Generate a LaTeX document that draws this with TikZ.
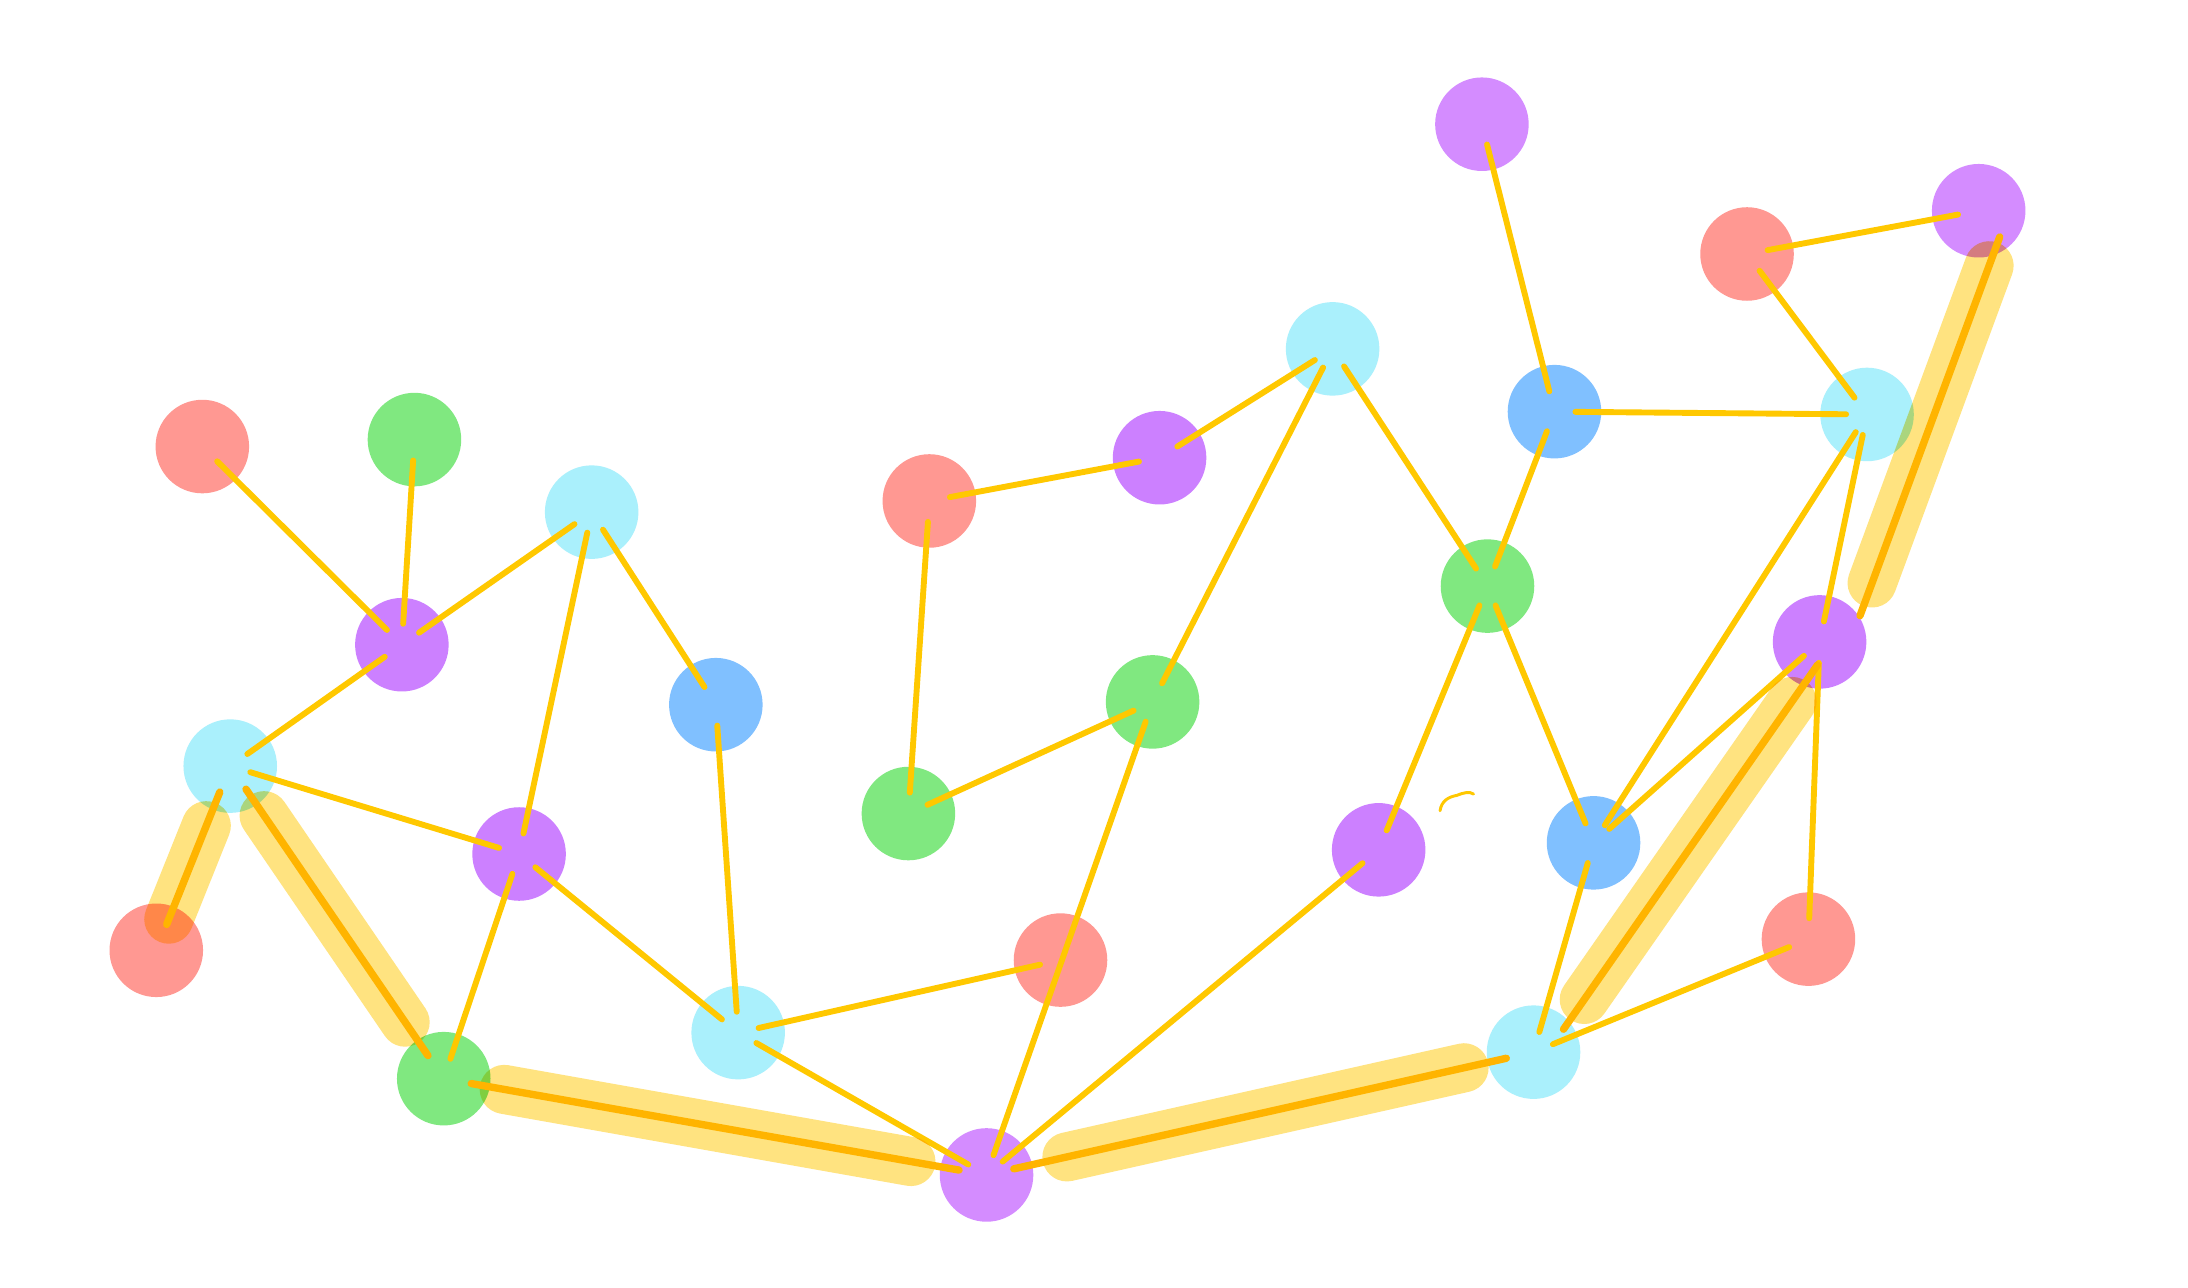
\documentclass[tikz,border=0pt]{standalone}
\usetikzlibrary{backgrounds}
\definecolor{cred}{HTML}{FF9892}
\definecolor{cgreen}{HTML}{80E880}
\definecolor{ccyan}{HTML}{AAF0FC}
\definecolor{cpurple}{HTML}{CC80FF}
\definecolor{clpurple}{HTML}{D48CFF}
\definecolor{cblue}{HTML}{80C0FF}
\definecolor{cedge}{HTML}{FFC800}
\definecolor{cband}{HTML}{FFE380}
\definecolor{ccore}{HTML}{FFB400}
\tikzset{
  vtx/.style={circle, inner sep=0pt, minimum size=0.67cm, fill=#1},
  edge/.style={draw=cedge, line width=1.2pt, line cap=round, shorten <=0.15cm, shorten >=0.15cm},
  band/.style={draw=cband, line width=10pt, line cap=round},
  core/.style={draw=ccore, line width=1.5pt, line cap=round, shorten <=0.2cm, shorten >=0.2cm},
}
\begin{document}
\begin{tikzpicture}[x=0.01cm, y=-0.01cm]
\useasboundingbox (0,0) rectangle (1568,923);
\fill[white] (0,0) rectangle (1568,923);
% nodes
\node[vtx=cred]     (n1)  at (145,320) {};
\node[vtx=cgreen]   (n2)  at (297,315) {};
\node[vtx=ccyan]    (n3)  at (424,367) {};
\node[vtx=cpurple]  (n4)  at (288,462) {};
\node[vtx=ccyan]    (n5)  at (165,549) {};
\node[vtx=cblue]    (n6)  at (513,505) {};
\node[vtx=cred]     (n7)  at (112,681) {};
\node[vtx=cpurple]  (n8)  at (372,612) {};
\node[vtx=cgreen]   (n9)  at (318,773) {};
\node[vtx=ccyan]    (n10) at (529,740) {};
\node[vtx=cred]     (n11) at (666,359) {};
\node[vtx=cpurple]  (n12) at (831,328) {};
\node[vtx=cgreen]   (n13) at (651,583) {};
\node[vtx=cgreen]   (n14) at (826,503) {};
\node[vtx=ccyan]    (n15) at (955,250) {};
\node[vtx=cred]     (n16) at (760,688) {};
\node[vtx=clpurple] (n17) at (707,842) {};
\node[vtx=clpurple] (n18) at (1062,89) {};
\node[vtx=cblue]    (n19) at (1114,295) {};
\node[vtx=cgreen]   (n20) at (1066,420) {};
\node[vtx=cpurple]  (n21) at (988,609) {};
\node[vtx=cblue]    (n22) at (1142,604) {};
\node[vtx=ccyan]    (n23) at (1099,754) {};
\node[vtx=cred]     (n24) at (1252,182) {};
\node[vtx=clpurple] (n25) at (1418,151) {};
\node[vtx=ccyan]    (n26) at (1338,297) {};
\node[vtx=cpurple]  (n27) at (1304,460) {};
\node[vtx=cred]     (n28) at (1296,673) {};
% thin edges
\foreach \a/\b in {n1/n4, n2/n4, n3/n4, n4/n5, n3/n8, n3/n6, n5/n8, n8/n9, n8/n10,
  n6/n10, n10/n17, n10/n16, n11/n12, n11/n13, n13/n14, n12/n15, n14/n15, n14/n17,
  n15/n20, n17/n21, n21/n20, n18/n19, n19/n20, n19/n26, n20/n22, n26/n22, n27/n22,
  n22/n23, n23/n28, n27/n28, n27/n26, n26/n24, n24/n25}
  \draw[edge] (\a.center) -- (\b.center);
% highlighted path
\begin{scope}[blend mode=multiply]
  \draw[band, shorten <=0.46cm, shorten >=0.24cm] (n5.center) -- (n7.center);
  \draw[band, shorten <=0.43cm, shorten >=0.49cm] (n5.center) -- (n9.center);
  \draw[band, shorten <=0.44cm, shorten >=0.55cm] (n9.center) -- (n17.center);
  \draw[band, shorten <=0.59cm, shorten >=0.51cm] (n17.center) -- (n23.center);
  \draw[band, shorten <=0.46cm, shorten >=0.52cm, transform canvas={xshift=0.1cm}] (n23.center) -- (n27.center);
  \draw[band, shorten <=0.45cm, shorten >=0.42cm, transform canvas={xshift=0.22cm}] (n27.center) -- (n25.center);
\end{scope}
\draw[core] (n5.center) -- (n7.center);
\draw[core] (n5.center) -- (n9.center);
\draw[core] (n9.center) -- (n17.center);
\draw[core] (n17.center) -- (n23.center);
\draw[core, transform canvas={xshift=0.1cm}] (n23.center) -- (n27.center);
\draw[core, transform canvas={xshift=0.22cm}] (n27.center) -- (n25.center);
% small stray stroke
\draw[cedge, line width=0.6pt, line cap=round] (1032,581) .. controls (1033,574) and (1038,571) .. (1044,570) .. controls (1049,568) and (1053,567) .. (1056,569);
\end{tikzpicture}
\end{document}
